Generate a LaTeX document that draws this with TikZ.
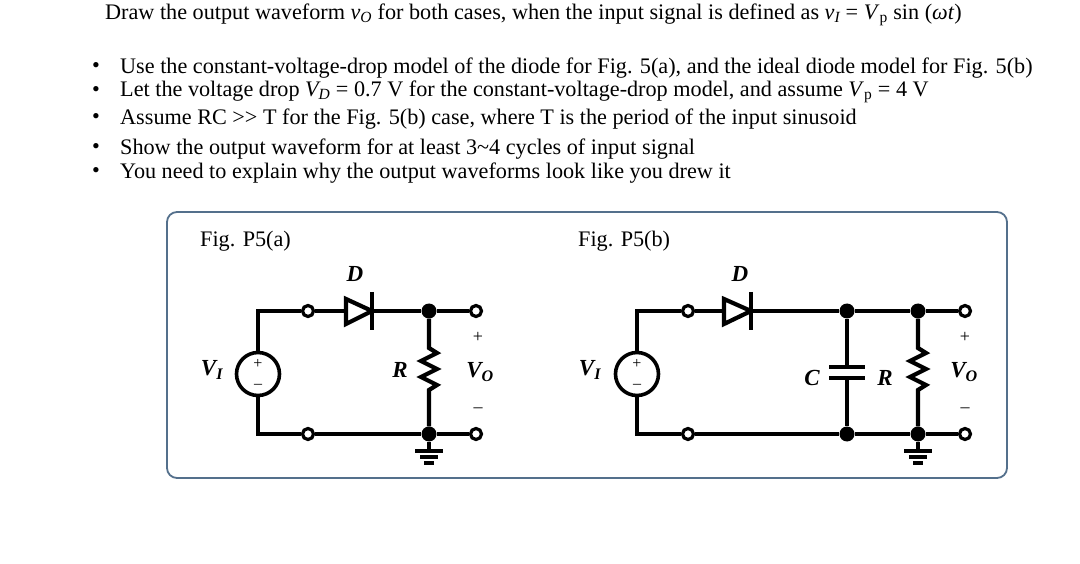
\documentclass[tikz,border=0pt]{standalone}
\usepackage{fontspec}
\setmainfont{Liberation Serif}
\definecolor{boxc}{RGB}{84,112,140}
\begin{document}
\begin{tikzpicture}[x=1pt,y=-1pt,
  wire/.style={line width=4.2pt},
  dotn/.style={circle,fill=black,inner sep=0pt,minimum size=15pt},
  opn/.style={circle,draw,line width=3.2pt,fill=white,inner sep=0pt,minimum size=11pt},
  txt/.style={anchor=west,inner sep=0pt,font=\fontsize{22.2}{26}\selectfont},
  lab/.style={inner sep=0pt,font=\fontsize{23}{24}\selectfont\bfseries\itshape},
  pm/.style={inner sep=0pt,font=\fontsize{18}{18}\selectfont},
  spm/.style={inner sep=0pt,font=\fontsize{16}{16}\selectfont}]
\useasboundingbox (0,0) rectangle (1080,564);
\node[txt] (l0) at (105,15) {Draw the output waveform \textit{v\textsubscript{O}} for both cases, when the input signal is defined as \textit{v\textsubscript{I}} = \textit{V}\textsubscript{p} sin (\textit{ωt})};
\foreach \y/\t [count=\i] in {68/{Use the constant-voltage-drop model of the diode for Fig. 5(a), and the ideal diode model for Fig. 5(b)},
  92/{Let the voltage drop \textit{V\textsubscript{D}} = 0.7 V for the constant-voltage-drop model, and assume \textit{V}\textsubscript{p} = 4 V},
  119/{Assume RC >{}> T for the Fig. 5(b) case, where T is the period of the input sinusoid},
  149/{Show the output waveform for at least 3\textasciitilde4 cycles of input signal},
  173/{You need to explain why the output waveforms look like you drew it}}{
  \node[txt] (b\i) at (92,\y) {\textbullet};
  \node[txt] (t\i) at (120,\y) {\t};
}
\draw[line width=1.8pt,color=boxc,rounded corners=10pt] (167,212) rectangle (1007,478);
\node[txt] (fa) at (200,241) {Fig. P5(a)};
\node[txt] (fb) at (578,241) {Fig. P5(b)};
% ---- circuit a
\node[circle,draw,line width=3.6pt,minimum size=43pt,inner sep=0pt] (sa) at (258,374) {};
\node[spm] (sap) at (258,364) {+}; \node[spm] (sam) at (258,386) {\textendash};
\node[opn] (ao1) at (308,311) {}; \node[opn] (ao2) at (308,434) {};
\node[dotn] (an1) at (429,311) {}; \node[dotn] (an2) at (429,434) {};
\node[opn] (ao3) at (476,311) {}; \node[opn] (ao4) at (476,434) {};
\coordinate (ada) at (346,311); \coordinate (adk) at (372,311);
\draw[wire] (sa.north) |- (ao1); \draw[wire] (sa.south) |- (ao2);
\draw[wire] (ao1) -- (ada); \draw[wire] (adk) -- (an1) -- (ao3);
\draw[wire,line join=miter] (ada) -- ++(0,-12) -- (adk) -- ++(-26,13) -- cycle;
\draw[wire] (adk)++(0,-19) -- ++(0,38);
\draw[wire] (ao2) -- (an2) -- (ao4);
\draw[wire,line join=miter] (an1) -- (429,348) -- (437,353) -- (421,361) -- (437,369) -- (421,377) -- (437,385) -- (429,390) -- (an2);
\draw[wire] (an2) -- (429,450);
\draw[line width=3.6pt] (415,451) -- (443,451) (420,457) -- (438,457) (424,463) -- (434,463);
\node[lab] at (355,274) {D};
\node[lab] at (212,370) {V\textsubscript{\textit{I}}};
\node[lab] at (400,370) {R};
\node[lab] at (480,372) {V\textsubscript{\textit{O}}};
\node[pm] at (478,337) {+}; \node[pm] at (478,410) {\textendash};
% ---- circuit b
\node[circle,draw,line width=3.6pt,minimum size=43pt,inner sep=0pt] (sb) at (637,374) {};
\node[spm] (sbp) at (637,364) {+}; \node[spm] (sbm) at (637,386) {\textendash};
\node[opn] (bo1) at (688,311) {}; \node[opn] (bo2) at (688,434) {};
\node[dotn] (bc1) at (847,311) {}; \node[dotn] (bc2) at (847,434) {};
\node[dotn] (br1) at (918,311) {}; \node[dotn] (br2) at (918,434) {};
\node[opn] (bo3) at (965,311) {}; \node[opn] (bo4) at (965,434) {};
\coordinate (bda) at (724,311); \coordinate (bdk) at (751,311);
\draw[wire] (sb.north) |- (bo1); \draw[wire] (sb.south) |- (bo2);
\draw[wire] (bo1) -- (bda); \draw[wire] (bdk) -- (bc1) -- (br1) -- (bo3);
\draw[wire,line join=miter] (bda) -- ++(0,-12) -- (bdk) -- ++(-27,13) -- cycle;
\draw[wire] (bdk)++(0,-19) -- ++(0,38);
\draw[wire] (bo2) -- (bc2) -- (br2) -- (bo4);
\draw[wire] (bc1) -- (847,367) (847,378) -- (bc2);
\draw[wire] (829,367) -- (865,367) (829,378) -- (865,378);
\draw[wire,line join=miter] (br1) -- (918,348) -- (926,353) -- (910,361) -- (926,369) -- (910,377) -- (926,385) -- (918,390) -- (br2);
\draw[wire] (br2) -- (918,450);
\draw[line width=3.6pt] (904,451) -- (932,451) (909,457) -- (927,457) (913,463) -- (923,463);
\node[lab] at (740,274) {D};
\node[lab] at (590,370) {V\textsubscript{\textit{I}}};
\node[lab] at (812,378) {C};
\node[lab] at (885,378) {R};
\node[lab] at (964,372) {V\textsubscript{\textit{O}}};
\node[pm] at (965,337) {+}; \node[pm] at (965,410) {\textendash};
\end{tikzpicture}
\end{document}
